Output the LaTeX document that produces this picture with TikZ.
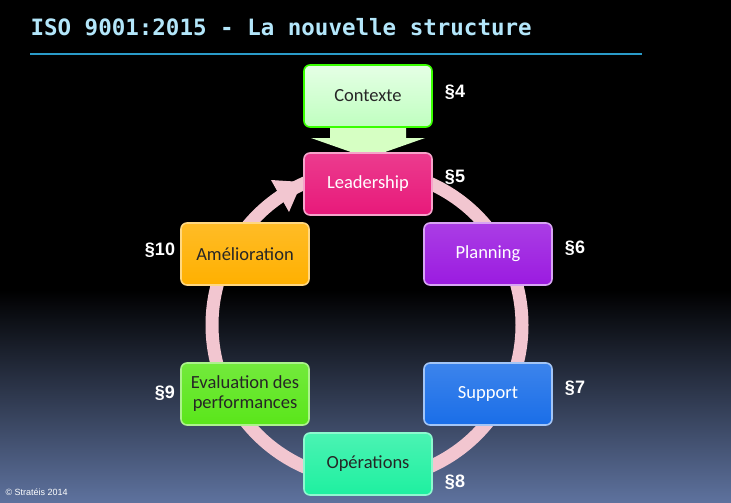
\documentclass[tikz,border=0pt]{standalone}
\usepackage{fontspec}
\setmainfont{Carlito}
\newfontfamily\monob{DejaVu Sans Mono}
\newfontfamily\arialb{Liberation Sans}
\usetikzlibrary{calc}
\definecolor{bgtop}{HTML}{000000}
\definecolor{bgbot}{HTML}{5E729E}
\definecolor{ringc}{HTML}{F2C6D0}
\definecolor{leadc}{HTML}{E8197A}
\definecolor{planc}{HTML}{9B1BE0}
\definecolor{suppc}{HTML}{1A6EE8}
\definecolor{opsc}{HTML}{1EF0A0}
\definecolor{evalc}{HTML}{5AE61A}
\definecolor{amelc}{HTML}{FFB000}
\tikzset{
  box/.style={rounded corners=6pt, minimum width=128pt, minimum height=62pt, line width=1.6pt, align=center, font=\fontsize{18.5}{20}\selectfont, text=black!85},
  para/.style={text=white, font=\arialb\bfseries\fontsize{18}{19}\selectfont},
}
\begin{document}
\begin{tikzpicture}[x=1pt,y=-1pt]
\fill[bgtop] (0,0) rectangle (731,290);
\shade[top color=bgtop, bottom color=bgbot] (0,290) rectangle (731,503);
\useasboundingbox (0,0) rectangle (731,503);
\node[anchor=west, text=cyan!30!white, font=\monob\bfseries\fontsize{22.5}{24}\selectfont] (title) at (27,27) {ISO 9001:2015 - La nouvelle structure};
\draw[line width=2.5pt, color=cyan!60!teal] (30,54) coordinate (ul1) -- (642,54) coordinate (ul2);
% ring
\coordinate (c) at (367,325);
\draw[ringc, line width=13pt] (c) circle[radius=155];
\fill[ringc] (302,182) -- (289,212) -- (271,180) -- cycle;
% arrow from Contexte
\fill[green!15!white!90!lime] (330,128) -- (406,128) -- (406,138) -- (425,138) -- (368,158) -- (311,138) -- (330,138) -- cycle;
% boxes
\node[box, draw=green!70!lime, top color=white!90!green, bottom color=green!25!white] (ctx) at (368,96) {Contexte};
\node[box, draw=leadc!40!white, top color=leadc!85!white, bottom color=leadc, text=white] (lead) at (368,184) {Leadership};
\node[box, draw=planc!40!white, top color=planc!85!white, bottom color=planc, text=white] (plan) at (488,254) {Planning};
\node[box, draw=suppc!40!white, top color=suppc!85!white, bottom color=suppc, text=white] (supp) at (488,394) {Support};
\node[box, draw=opsc!50!white, top color=opsc!80!white, bottom color=opsc] (ops) at (368,464) {Opérations};
\node[box, draw=evalc!50!white, top color=evalc!85!white, bottom color=evalc] (eval) at (245,394) {Evaluation des\\performances};
\node[box, draw=amelc!50!white, top color=amelc!85!white, bottom color=amelc] (amel) at (245,254) {Amélioration};
% labels
\node[para] (p4) at (455,92) {§4};
\node[para] (p5) at (455,177) {§5};
\node[para] (p6) at (575,248) {§6};
\node[para] (p7) at (575,388) {§7};
\node[para] (p8) at (455,482) {§8};
\node[para] (p9) at (165,393) {§9};
\node[para] (p10) at (160,250) {§10};
\node[anchor=west, text=white, font=\arialb\fontsize{9}{10}\selectfont] (copy) at (2,492) {© Stratéis 2014};
\end{tikzpicture}
\end{document}
